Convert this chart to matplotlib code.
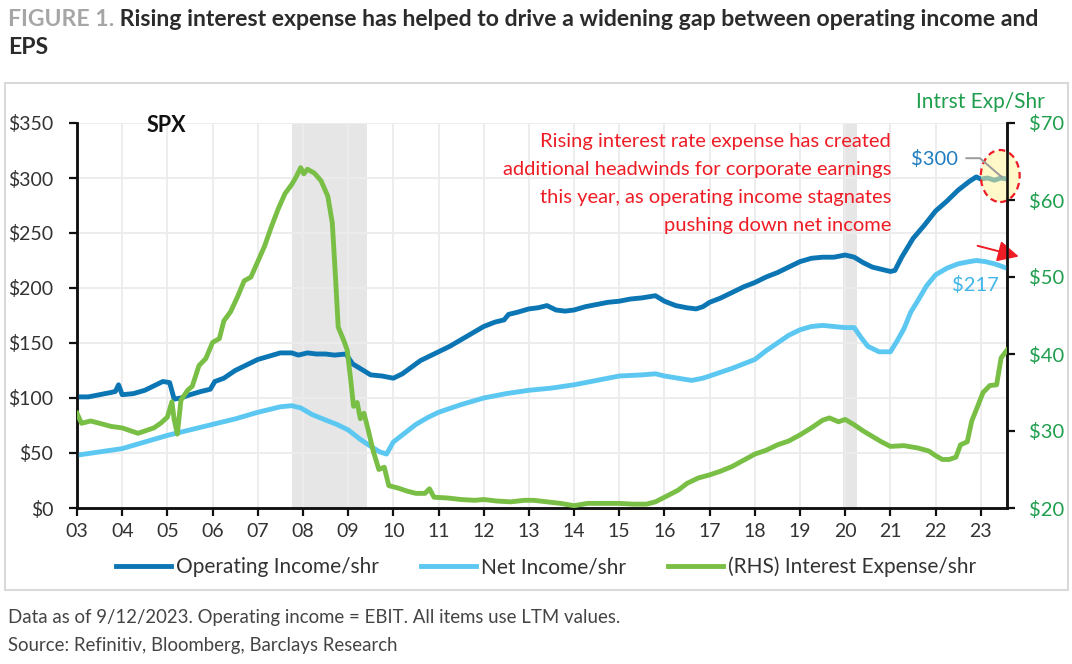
import matplotlib
matplotlib.use("Agg")
import matplotlib.pyplot as plt
from matplotlib.patches import Ellipse, Rectangle

plt.rcParams['font.family'] = ['Lato', 'DejaVu Sans']

# ---------------- data ----------------
oi_x = [2003.0, 2003.25, 2003.5, 2003.75, 2003.85, 2003.92, 2004.0, 2004.25, 2004.5, 2004.75, 2004.9,
        2005.05, 2005.15, 2005.3, 2005.5, 2005.75, 2005.95, 2006.05, 2006.25, 2006.5, 2006.75, 2007.0,
        2007.25, 2007.5, 2007.75, 2007.9, 2008.1, 2008.3, 2008.5, 2008.7, 2008.95, 2009.1, 2009.3, 2009.5,
        2009.75, 2010.0, 2010.2, 2010.4, 2010.6, 2010.8, 2011.0, 2011.25, 2011.5, 2011.75, 2012.0, 2012.25,
        2012.45, 2012.55, 2012.75, 2013.0, 2013.2, 2013.4, 2013.6, 2013.8, 2014.0, 2014.25, 2014.5, 2014.75,
        2015.0, 2015.25, 2015.5, 2015.8, 2016.0, 2016.25, 2016.5, 2016.7, 2016.85, 2017.0, 2017.25, 2017.5,
        2017.75, 2018.0, 2018.25, 2018.5, 2018.75, 2019.0, 2019.25, 2019.5, 2019.75, 2020.0, 2020.2, 2020.4,
        2020.6, 2020.8, 2021.0, 2021.1, 2021.25, 2021.5, 2021.75, 2022.0, 2022.25, 2022.5, 2022.75, 2022.9,
        2023.0, 2023.15, 2023.3, 2023.45, 2023.58]
oi_y = [101, 101, 103, 105, 106, 112, 103, 104, 107, 112, 115,
        114, 99, 100, 103, 106, 108, 115, 118, 125, 130, 135,
        138, 141, 141, 139, 141, 140, 140, 139, 140, 131, 126, 121,
        120, 118, 122, 128, 134, 138, 142, 147, 153, 159, 165, 169,
        171, 176, 178, 181, 182, 184, 180, 179, 180, 183, 185, 187,
        188, 190, 191, 193, 188, 184, 182, 181, 183, 187, 191, 196,
        201, 205, 210, 214, 219, 224, 227, 228, 228, 230, 228, 223,
        219, 217, 215, 216, 228, 245, 257, 270, 279, 289, 297, 301,
        299, 300, 298, 300, 299]

ni_x = [2003.0, 2003.5, 2004.0, 2004.5, 2005.0, 2005.5, 2006.0, 2006.5, 2007.0, 2007.5, 2007.75, 2007.95,
        2008.2, 2008.5, 2008.75, 2009.0, 2009.25, 2009.5, 2009.7, 2009.85, 2010.0, 2010.25, 2010.5, 2010.75,
        2011.0, 2011.5, 2012.0, 2012.5, 2013.0, 2013.5, 2014.0, 2014.5, 2015.0, 2015.5, 2015.8, 2016.0,
        2016.3, 2016.6, 2016.85, 2017.0, 2017.5, 2018.0, 2018.25, 2018.5, 2018.75, 2019.0, 2019.25, 2019.5,
        2019.75, 2020.0, 2020.2, 2020.35, 2020.5, 2020.75, 2021.0, 2021.15, 2021.3, 2021.45, 2021.6, 2021.8,
        2022.0, 2022.25, 2022.5, 2022.75, 2022.9, 2023.1, 2023.3, 2023.58]
ni_y = [48, 51, 54, 60, 66, 71, 76, 81, 87, 92, 93, 91,
        85, 80, 76, 71, 63, 56, 51, 49, 60, 68, 76, 82,
        87, 94, 100, 104, 107, 109, 112, 116, 120, 121, 122, 120,
        118, 116, 118, 120, 127, 135, 143, 150, 157, 162, 165, 166,
        165, 164, 164, 155, 147, 142, 142, 152, 163, 178, 188, 202,
        212, 218, 222, 224, 225, 224, 222, 218]

ie_x = [2003.0, 2003.1, 2003.3, 2003.5, 2003.75, 2004.0, 2004.2, 2004.35, 2004.5, 2004.7, 2004.85, 2005.0,
        2005.1, 2005.15, 2005.22, 2005.3, 2005.45, 2005.55, 2005.7, 2005.85, 2006.0, 2006.15, 2006.25, 2006.4,
        2006.55, 2006.7, 2006.85, 2007.0, 2007.15, 2007.3, 2007.45, 2007.6, 2007.75, 2007.85, 2007.95, 2008.02,
        2008.1, 2008.25, 2008.4, 2008.55, 2008.65, 2008.72, 2008.78, 2008.9, 2008.98, 2009.05, 2009.12, 2009.2,
        2009.27, 2009.35, 2009.45, 2009.55, 2009.68, 2009.8, 2009.9, 2010.1, 2010.3, 2010.5, 2010.7, 2010.8,
        2010.9, 2011.2, 2011.5, 2011.8, 2012.0, 2012.3, 2012.6, 2012.9, 2013.1, 2013.4, 2013.7, 2014.0,
        2014.3, 2014.6, 2015.0, 2015.3, 2015.6, 2015.8, 2016.0, 2016.3, 2016.5, 2016.75, 2017.0, 2017.25,
        2017.5, 2017.75, 2018.0, 2018.25, 2018.5, 2018.75, 2019.0, 2019.25, 2019.5, 2019.65, 2019.85, 2020.0,
        2020.2, 2020.4, 2020.6, 2020.8, 2021.0, 2021.3, 2021.6, 2021.85, 2022.0, 2022.15, 2022.3, 2022.45,
        2022.55, 2022.7, 2022.8, 2022.95, 2023.05, 2023.2, 2023.35, 2023.45, 2023.58]
ie_y = [32.3, 31.0, 31.3, 31.0, 30.6, 30.4, 30.0, 29.7, 30.0, 30.4, 31.0, 31.8,
        33.8, 31.5, 29.6, 34.0, 35.3, 35.8, 38.5, 39.4, 41.5, 42.0, 44.3, 45.5,
        47.4, 49.5, 50.0, 52.0, 54.0, 56.5, 58.8, 60.8, 62.0, 63.0, 64.2, 63.4,
        64.0, 63.5, 62.5, 60.5, 57.0, 50.0, 43.5, 41.8, 40.5, 37.0, 33.2, 33.7,
        31.6, 32.3, 30.0, 27.5, 25.0, 25.3, 22.9, 22.6, 22.2, 21.9, 21.9, 22.5,
        21.4, 21.3, 21.1, 21.0, 21.1, 20.9, 20.8, 21.0, 21.0, 20.8, 20.6, 20.3,
        20.6, 20.6, 20.6, 20.5, 20.5, 20.8, 21.4, 22.3, 23.2, 23.9, 24.3, 24.8,
        25.4, 26.2, 27.0, 27.5, 28.2, 28.7, 29.5, 30.4, 31.4, 31.7, 31.2, 31.5,
        30.8, 30.0, 29.3, 28.6, 28.0, 28.1, 27.8, 27.4, 26.8, 26.3, 26.3, 26.6,
        28.2, 28.6, 31.3, 33.5, 35.0, 35.9, 36.0, 39.5, 40.5]

years = list(range(2003, 2024))
year_labels = [f"{y % 100:02d}" for y in years]
left_ticks = [0, 50, 100, 150, 200, 250, 300, 350]
right_ticks = [20, 30, 40, 50, 60, 70]
recessions = [(2007.76, 2009.41), (2019.95, 2020.26)]

note_lines = ["Rising interest rate expense has created",
              "additional headwinds for corporate earnings",
              "this year, as operating income stagnates",
              "pushing down net income"]

C_OI = '#0b76b3'
C_NI = '#5cc8f2'
C_IE = '#79bf46'
C_GTXT = '#1f9e4d'
C_RED = '#ee1c25'

# ---------------- figure ----------------
W, H = 1072, 664
fig = plt.figure(figsize=(W / 100, H / 100), dpi=100)

def fx(px):
    return px / W

def fy(py):
    return 1 - py / H

# box
fig.patches.append(Rectangle((fx(5), fy(590)), fx(1068) - fx(5), fy(83) - fy(590),
                             transform=fig.transFigure, fill=False, edgecolor='#d9d9d9', lw=1.5))

ax = fig.add_axes([fx(77), fy(508), fx(1007) - fx(77), fy(123) - fy(508)])
ax2 = ax.twinx()

for a, b in recessions:
    ax.axvspan(a, b, color='#e6e6e6', zorder=0, lw=0)

l1, = ax.plot(oi_x, oi_y, color=C_OI, lw=3.5, zorder=3, solid_joinstyle='round')
l2, = ax.plot(ni_x, ni_y, color=C_NI, lw=3.5, zorder=3, solid_joinstyle='round')
l3, = ax2.plot(ie_x, ie_y, color=C_IE, lw=3.5, zorder=3, solid_joinstyle='round')

ax.set_xlim(2003.0, 2023.58)
ax.set_ylim(0, 350)
ax2.set_ylim(20, 70)

ax.set_xticks(years)
ax.set_xticklabels(year_labels)
ax.set_yticks(left_ticks)
ax.set_yticklabels([f"${v}" for v in left_ticks])
ax2.set_yticks(right_ticks)
ax2.set_yticklabels([f"${v}" for v in right_ticks])

ax.grid(True, color='#ececec', lw=1.3, zorder=0)
ax.set_axisbelow(True)

for a in (ax, ax2):
    a.spines['top'].set_visible(False)
    for s in ('left', 'right', 'bottom'):
        a.spines[s].set_linewidth(1.8)
        a.spines[s].set_color('#111111')
ax.tick_params(axis='both', direction='out', length=6, width=1.6, labelsize=14, colors='#111111',
               labelcolor='#333333')
ax.tick_params(axis='x', pad=5)
ax.tick_params(axis='y', pad=11)
ax2.tick_params(axis='y', direction='out', length=6, width=1.6, labelsize=14.5, colors='#111111',
                labelcolor=C_GTXT, pad=10)
ax2.set_zorder(ax.get_zorder() + 1)
ax2.patch.set_visible(False)

# texts
ax.text((147 - 77) / 930, 1 - (125 - 123) / 385, 'SPX', transform=ax.transAxes,
        fontsize=15.5, fontweight='bold', color='#111111', ha='left', va='center')

for i, line in enumerate(note_lines):
    fig.text(fx(891), fy(141.7 + 27.8 * i), line, color=C_RED, fontsize=14.5, ha='right', va='center')

fig.text(fx(1045), fy(101.7), 'Intrst Exp/Shr', color=C_GTXT, fontsize=15, ha='right', va='center')

# $300 annotation
ax.text(2021.97, 317, '$300', color='#1f7dbf', fontsize=14.5, ha='center', va='center', zorder=6)
ax.plot([2022.68, 2022.98, 2023.46], [318, 318, 301], color='#9a9a9a', lw=1.4, zorder=6)
ax.add_patch(Ellipse((2023.43, 301.8), 0.86, 47.3, facecolor=(1.0, 0.96, 0.62, 0.55),
                     edgecolor=C_RED, lw=1.6, ls=(0, (3, 2)), zorder=5, clip_on=False))

# $217 annotation
ax.text(2022.89, 203, '$217', color='#3eb6ea', fontsize=14.5, ha='center', va='center', zorder=6)

# red arrow
ax.annotate('', xy=(2023.9, 228), xytext=(2022.87, 239),
            arrowprops=dict(arrowstyle='-|>', color=C_RED, lw=1.4, mutation_scale=32),
            annotation_clip=False, zorder=7)

# title
t1 = fig.text(fx(8), fy(19), 'FIGURE 1.', color='#a6a6a6', fontsize=16.6, fontweight='bold',
              ha='left', va='center')
ax.annotate(' Rising interest expense has helped to drive a widening gap between operating income and',
            xy=(1, 0.5), xycoords=t1, va='center', ha='left', fontsize=16.6, fontweight='bold',
            color='#2b2b2b', annotation_clip=False)
fig.text(fx(8), fy(48), 'EPS', color='#2b2b2b', fontsize=16.6, fontweight='bold', ha='left', va='center')

# legend
fig.legend([l1, l2, l3], ['Operating Income/shr', 'Net Income/shr', '(RHS) Interest Expense/shr'],
           loc='center', bbox_to_anchor=(fx(546), fy(567)), ncol=3, frameon=False, fontsize=15,
           handlelength=2.65, handletextpad=0.25, columnspacing=2.0, labelcolor='#333333')

# footnotes
fig.text(fx(8), fy(617), 'Data as of 9/12/2023. Operating income = EBIT. All items use LTM values.',
         color='#444444', fontsize=13.4, ha='left', va='center')
fig.text(fx(8), fy(645), 'Source: Refinitiv, Bloomberg, Barclays Research',
         color='#444444', fontsize=13.4, ha='left', va='center')

fig.savefig('out.png', dpi=100)
